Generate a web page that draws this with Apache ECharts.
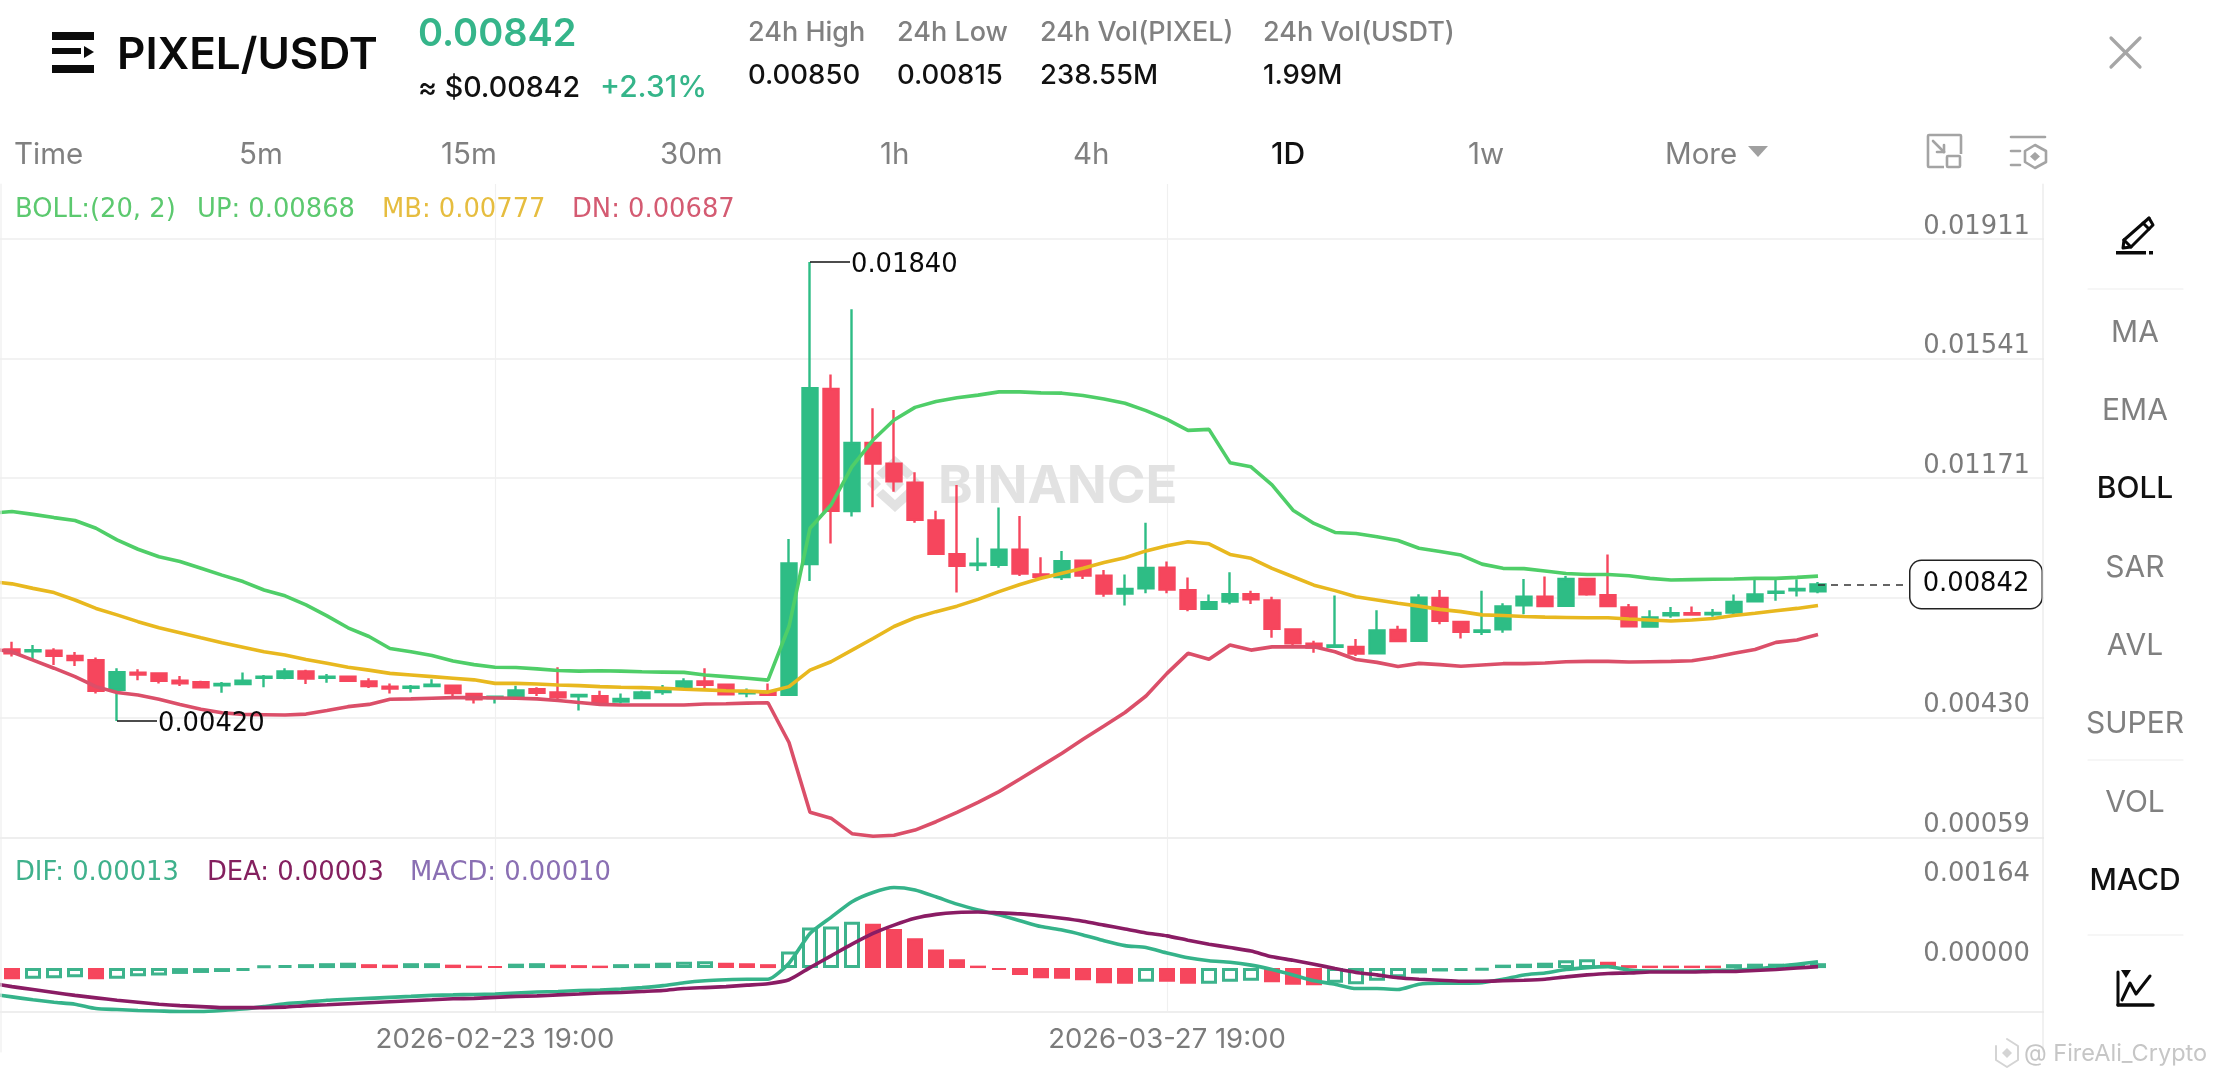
<!DOCTYPE html>
<html>
<head>
<meta charset="utf-8">
<style>html,body{margin:0;padding:0;background:#fff}#c{width:2220px;height:1080px}</style>
<script src="https://cdn.jsdelivr.net/npm/echarts@6/dist/echarts.min.js"></script>
</head>
<body>
<div id="c"></div>
<script>
// ---- categories (first one lies just off the left edge, the last ten are the empty right margin)
const categories = ["2026-01-30 19:00","2026-01-31 19:00","2026-02-01 19:00","2026-02-02 19:00","2026-02-03 19:00","2026-02-04 19:00","2026-02-05 19:00","2026-02-06 19:00","2026-02-07 19:00","2026-02-08 19:00","2026-02-09 19:00","2026-02-10 19:00","2026-02-11 19:00","2026-02-12 19:00","2026-02-13 19:00","2026-02-14 19:00","2026-02-15 19:00","2026-02-16 19:00","2026-02-17 19:00","2026-02-18 19:00","2026-02-19 19:00","2026-02-20 19:00","2026-02-21 19:00","2026-02-22 19:00","2026-02-23 19:00","2026-02-24 19:00","2026-02-25 19:00","2026-02-26 19:00","2026-02-27 19:00","2026-02-28 19:00","2026-03-01 19:00","2026-03-02 19:00","2026-03-03 19:00","2026-03-04 19:00","2026-03-05 19:00","2026-03-06 19:00","2026-03-07 19:00","2026-03-08 19:00","2026-03-09 19:00","2026-03-10 19:00","2026-03-11 19:00","2026-03-12 19:00","2026-03-13 19:00","2026-03-14 19:00","2026-03-15 19:00","2026-03-16 19:00","2026-03-17 19:00","2026-03-18 19:00","2026-03-19 19:00","2026-03-20 19:00","2026-03-21 19:00","2026-03-22 19:00","2026-03-23 19:00","2026-03-24 19:00","2026-03-25 19:00","2026-03-26 19:00","2026-03-27 19:00","2026-03-28 19:00","2026-03-29 19:00","2026-03-30 19:00","2026-03-31 19:00","2026-04-01 19:00","2026-04-02 19:00","2026-04-03 19:00","2026-04-04 19:00","2026-04-05 19:00","2026-04-06 19:00","2026-04-07 19:00","2026-04-08 19:00","2026-04-09 19:00","2026-04-10 19:00","2026-04-11 19:00","2026-04-12 19:00","2026-04-13 19:00","2026-04-14 19:00","2026-04-15 19:00","2026-04-16 19:00","2026-04-17 19:00","2026-04-18 19:00","2026-04-19 19:00","2026-04-20 19:00","2026-04-21 19:00","2026-04-22 19:00","2026-04-23 19:00","2026-04-24 19:00","2026-04-25 19:00","2026-04-26 19:00","2026-04-27 19:00","2026-04-28 19:00","2026-04-29 19:00","2026-04-30 19:00","2026-05-01 19:00","2026-05-02 19:00","2026-05-03 19:00","2026-05-04 19:00","2026-05-05 19:00","2026-05-06 19:00","2026-05-07 19:00","2026-05-08 19:00"];
const xTickLabels = ["2026-02-23 19:00","2026-03-27 19:00"];
const priceTicks = [0.00059,0.00430,0.00801,0.01171,0.01541,0.01911];
const priceTickLabels = [0.00059,0.00430,0.01171,0.01541,0.01911];
const macdTicks = [0,0.00164];

// ---- candles, from the second category on
const opens = [0.00641,0.00635,0.00637,0.00621,0.00608,0.00516,0.00569,0.00567,0.00544,0.00540,0.00530,0.00534,0.00553,0.00553,0.00573,0.00553,0.00557,0.00542,0.00526,0.00522,0.00528,0.00529,0.00503,0.00491,0.00494,0.00518,0.00508,0.00496,0.00496,0.00480,0.00491,0.00509,0.00524,0.00542,0.00532,0.00505,0.00510,0.00501,0.00905,0.01447,0.01069,0.01280,0.01216,0.01157,0.01040,0.00936,0.00902,0.00903,0.00950,0.00873,0.00865,0.00916,0.00869,0.00814,0.00830,0.00894,0.00824,0.00767,0.00789,0.00812,0.00793,0.00703,0.00659,0.00649,0.00649,0.00629,0.00701,0.00668,0.00800,0.00726,0.00696,0.00703,0.00778,0.00804,0.00776,0.00859,0.00809,0.00771,0.00712,0.00747,0.00753,0.00750,0.00755,0.00790,0.00816,0.00824,0.00821];
const closes = [0.00629,0.00639,0.00621,0.00608,0.00513,0.00571,0.00563,0.00544,0.00536,0.00524,0.00534,0.00544,0.00557,0.00573,0.00551,0.00557,0.00544,0.00528,0.00520,0.00526,0.00532,0.00506,0.00487,0.00495,0.00514,0.00507,0.00493,0.00500,0.00476,0.00488,0.00508,0.00514,0.00542,0.00532,0.00502,0.00510,0.00501,0.00907,0.01449,0.01070,0.01280,0.01216,0.01161,0.01042,0.00937,0.00900,0.00906,0.00950,0.00876,0.00866,0.00914,0.00870,0.00814,0.00828,0.00893,0.00826,0.00767,0.00787,0.00812,0.00796,0.00705,0.00660,0.00647,0.00653,0.00628,0.00700,0.00667,0.00801,0.00730,0.00696,0.00700,0.00774,0.00804,0.00775,0.00859,0.00812,0.00775,0.00713,0.00740,0.00753,0.00749,0.00754,0.00788,0.00811,0.00820,0.00828,0.00842];
const lows = [0.00619,0.00608,0.00593,0.00590,0.00505,0.00420,0.00546,0.00536,0.00528,0.00520,0.00507,0.00531,0.00524,0.00549,0.00534,0.00538,0.00540,0.00522,0.00505,0.00508,0.00526,0.00493,0.00474,0.00474,0.00493,0.00497,0.00487,0.00452,0.00472,0.00474,0.00487,0.00501,0.00522,0.00522,0.00499,0.00493,0.00500,0.00499,0.00853,0.00969,0.01052,0.01081,0.01129,0.01033,0.00935,0.00817,0.00884,0.00894,0.00868,0.00864,0.00856,0.00859,0.00804,0.00777,0.00815,0.00815,0.00759,0.00763,0.00781,0.00782,0.00677,0.00652,0.00631,0.00646,0.00621,0.00628,0.00666,0.00666,0.00719,0.00675,0.00686,0.00693,0.00750,0.00773,0.00775,0.00807,0.00774,0.00710,0.00709,0.00739,0.00747,0.00742,0.00750,0.00787,0.00792,0.00805,0.00815];
const highs = [0.00665,0.00655,0.00645,0.00633,0.00616,0.00583,0.00580,0.00570,0.00559,0.00544,0.00540,0.00570,0.00562,0.00583,0.00578,0.00565,0.00559,0.00552,0.00536,0.00531,0.00549,0.00531,0.00505,0.00497,0.00529,0.00524,0.00586,0.00502,0.00513,0.00505,0.00513,0.00531,0.00552,0.00583,0.00534,0.00520,0.00536,0.00983,0.01840,0.01492,0.01694,0.01387,0.01382,0.01189,0.01070,0.01150,0.00987,0.01080,0.01054,0.00926,0.00946,0.00916,0.00887,0.00873,0.01033,0.00913,0.00864,0.00811,0.00880,0.00823,0.00804,0.00703,0.00668,0.00808,0.00673,0.00762,0.00714,0.00812,0.00825,0.00730,0.00823,0.00784,0.00859,0.00867,0.00868,0.00863,0.00935,0.00782,0.00762,0.00772,0.00774,0.00766,0.00811,0.00864,0.00864,0.00858,0.00850];

// ---- bollinger bands, from the first category on
const bollUp = [0.01062,0.01068,0.01059,0.01049,0.01040,0.01016,0.00980,0.00951,0.00928,0.00913,0.00892,0.00871,0.00851,0.00825,0.00807,0.00779,0.00745,0.00708,0.00681,0.00644,0.00634,0.00622,0.00605,0.00594,0.00586,0.00585,0.00581,0.00576,0.00574,0.00575,0.00574,0.00572,0.00571,0.00570,0.00562,0.00557,0.00552,0.00546,0.00712,0.01016,0.01088,0.01207,0.01289,0.01351,0.01390,0.01408,0.01420,0.01428,0.01438,0.01438,0.01435,0.01434,0.01427,0.01416,0.01403,0.01380,0.01353,0.01319,0.01322,0.01219,0.01206,0.01150,0.01072,0.01031,0.01003,0.01000,0.00990,0.00978,0.00954,0.00944,0.00933,0.00905,0.00892,0.00891,0.00884,0.00876,0.00873,0.00873,0.00869,0.00861,0.00856,0.00857,0.00858,0.00859,0.00861,0.00861,0.00864,0.00868];
const bollMid = [0.00851,0.00844,0.00830,0.00817,0.00794,0.00768,0.00748,0.00727,0.00708,0.00693,0.00677,0.00662,0.00648,0.00634,0.00624,0.00610,0.00598,0.00586,0.00577,0.00567,0.00562,0.00557,0.00552,0.00547,0.00536,0.00536,0.00534,0.00531,0.00529,0.00526,0.00524,0.00523,0.00521,0.00518,0.00516,0.00513,0.00512,0.00509,0.00526,0.00577,0.00603,0.00639,0.00675,0.00712,0.00739,0.00758,0.00775,0.00796,0.00820,0.00842,0.00861,0.00877,0.00892,0.00910,0.00925,0.00946,0.00962,0.00974,0.00968,0.00935,0.00923,0.00892,0.00866,0.00840,0.00823,0.00804,0.00794,0.00784,0.00775,0.00765,0.00758,0.00748,0.00746,0.00743,0.00741,0.00740,0.00739,0.00739,0.00735,0.00732,0.00729,0.00732,0.00737,0.00746,0.00753,0.00761,0.00768,0.00777];
const bollDn = [0.00644,0.00633,0.00608,0.00583,0.00557,0.00526,0.00508,0.00500,0.00487,0.00471,0.00456,0.00445,0.00440,0.00439,0.00438,0.00441,0.00452,0.00464,0.00471,0.00487,0.00488,0.00490,0.00492,0.00492,0.00491,0.00490,0.00488,0.00483,0.00477,0.00471,0.00469,0.00469,0.00469,0.00469,0.00472,0.00473,0.00475,0.00476,0.00353,0.00137,0.00119,0.00071,0.00063,0.00066,0.00082,0.00108,0.00137,0.00168,0.00201,0.00240,0.00280,0.00320,0.00363,0.00404,0.00446,0.00497,0.00567,0.00629,0.00611,0.00655,0.00639,0.00649,0.00649,0.00649,0.00634,0.00610,0.00601,0.00588,0.00598,0.00594,0.00589,0.00593,0.00597,0.00597,0.00599,0.00603,0.00604,0.00604,0.00602,0.00603,0.00604,0.00606,0.00616,0.00629,0.00641,0.00663,0.00670,0.00687];

// ---- MACD pane, from the first category on
const dif = [-0.00053,-0.00059,-0.00065,-0.00070,-0.00074,-0.00083,-0.00085,-0.00087,-0.00088,-0.00089,-0.00089,-0.00087,-0.00084,-0.00079,-0.00073,-0.00070,-0.00066,-0.00064,-0.00062,-0.00060,-0.00058,-0.00056,-0.00055,-0.00054,-0.00053,-0.00051,-0.00049,-0.00048,-0.00046,-0.00045,-0.00043,-0.00040,-0.00036,-0.00030,-0.00026,-0.00024,-0.00023,-0.00023,0.00010,0.00071,0.00104,0.00136,0.00155,0.00165,0.00160,0.00146,0.00131,0.00119,0.00109,0.00097,0.00085,0.00078,0.00068,0.00056,0.00046,0.00042,0.00031,0.00021,0.00015,0.00012,0.00006,-0.00003,-0.00014,-0.00026,-0.00033,-0.00042,-0.00042,-0.00044,-0.00033,-0.00031,-0.00031,-0.00030,-0.00023,-0.00014,-0.00010,-0.00003,0.00001,0.00003,-0.00004,-0.00006,-0.00006,-0.00006,-0.00005,-0.00004,-0.00002,0.00003,0.00008,0.00013];
const dea = [-0.00031,-0.00038,-0.00044,-0.00050,-0.00056,-0.00061,-0.00066,-0.00070,-0.00074,-0.00077,-0.00079,-0.00081,-0.00081,-0.00081,-0.00080,-0.00077,-0.00075,-0.00073,-0.00071,-0.00069,-0.00067,-0.00065,-0.00063,-0.00062,-0.00060,-0.00058,-0.00057,-0.00055,-0.00053,-0.00051,-0.00050,-0.00048,-0.00046,-0.00042,-0.00040,-0.00038,-0.00035,-0.00032,-0.00024,0.00001,0.00025,0.00049,0.00071,0.00088,0.00102,0.00110,0.00114,0.00115,0.00113,0.00111,0.00107,0.00102,0.00096,0.00088,0.00080,0.00072,0.00066,0.00057,0.00049,0.00042,0.00035,0.00023,0.00016,0.00008,-0.00001,-0.00009,-0.00014,-0.00020,-0.00023,-0.00025,-0.00027,-0.00027,-0.00026,-0.00025,-0.00023,-0.00018,-0.00014,-0.00011,-0.00010,-0.00008,-0.00008,-0.00008,-0.00007,-0.00007,-0.00005,-0.00003,0.00000,0.00003];
// histogram, from the second category on: rising bars are hollow, falling bars solid
const macdRise = [null,-0.00022,-0.00021,-0.00019,null,-0.00022,-0.00017,-0.00015,-0.00012,-0.00010,-0.00008,-0.00006,0.00005,0.00006,0.00008,0.00010,0.00011,null,null,0.00010,0.00010,null,null,null,0.00009,0.00010,null,null,null,0.00008,0.00009,0.00011,0.00013,0.00014,null,null,null,0.00034,0.00083,0.00085,0.00095,null,null,null,null,null,null,null,null,null,null,null,null,null,-0.00028,null,null,-0.00032,-0.00028,-0.00026,null,null,null,-0.00030,-0.00033,-0.00026,-0.00019,-0.00011,-0.00007,-0.00006,-0.00005,0.00007,0.00009,0.00011,0.00016,0.00018,null,null,null,null,null,null,0.00008,0.00009,0.00009,0.00009,0.00010];
const macdFall = [-0.00023,null,null,null,-0.00023,null,null,null,null,null,null,null,null,null,null,null,null,0.00008,0.00007,null,null,0.00007,0.00005,0.00004,null,null,0.00007,0.00006,0.00005,null,null,null,null,null,0.00011,0.00010,0.00008,null,null,null,null,0.00091,0.00080,0.00061,0.00038,0.00018,0.00005,-0.00004,-0.00014,-0.00021,-0.00022,-0.00025,-0.00031,-0.00032,null,-0.00028,-0.00032,null,null,null,-0.00029,-0.00034,-0.00035,null,null,null,null,null,null,null,null,null,null,null,null,null,0.00013,0.00006,0.00005,0.00005,0.00005,0.00005,null,null,null,null,null];

const lastPrice = 0.00842;
const highMark = 0.01840, lowMark = 0.00420;

const FONT = 'Inter', NUM = '"DejaVu Sans"';
const GREEN = '#2EBD85', RED = '#F6465D';
const GREY = '#808080', AXIS = '#7b7b7b', LINE = '#eeeeee';

const candleData = [['-','-','-','-']].concat(opens.map((o,i)=>[o,closes[i],lows[i],highs[i]]));
const withLead = a => [null].concat(a);
const catAt = i => categories[i+1];   // i counts candles

// ----- chrome (text, icons) -----
const UI = 60;
const els = [];
function txt(s,x,y,size,color,weight,align,family){
  els.push({type:'text',z:UI,x:x,y:y,silent:true,style:{text:s,fontFamily:family||FONT,fontSize:size,fontWeight:weight||400,fill:color,align:align||'left',verticalAlign:'middle'}});
}
function ln(x1,y1,x2,y2,color,w,z){
  els.push({type:'line',z:z||UI,silent:true,shape:{x1,y1,x2,y2},style:{stroke:color,lineWidth:w||1.5,lineCap:'round'}});
}
function box(x,y,w,h,color,z){
  els.push({type:'rect',z:z||UI,silent:true,shape:{x,y,width:w,height:h},style:{fill:color}});
}
function poly(points,color,z){
  els.push({type:'polygon',z:z||UI,silent:true,shape:{points},style:{fill:color}});
}
function outl(points,color,w,closed){
  els.push({type:closed?'polygon':'polyline',z:UI,silent:true,shape:{points},style:{fill:closed?'#fff':null,stroke:color,lineWidth:w,lineJoin:'round',lineCap:'round'}});
}
function rectOut(x,y,w,h,color,lw){
  els.push({type:'rect',z:UI,silent:true,shape:{x,y,width:w,height:h,r:1},style:{fill:null,stroke:color,lineWidth:lw}});
}
// white side panel hides the axis overshoot
box(2044,0,176,1080,'#ffffff',50);
// frame
ln(2043,184,2043,1052,'#e8e8e8',1.2,51);
ln(1,184,1,1052,'#eeeeee',1.2,51);

// header
box(52,32,42,8,'#0b0b0b'); box(52,48,29,6,'#0b0b0b'); box(52,65,42,8,'#0b0b0b');
poly([[84,46],[94,52],[84,58]],'#0b0b0b');
txt('PIXEL/USDT',117,55.5,44,'#0a0a0a',600);
txt('0.00842',418,34.5,38,'#35B58A',600);
txt('≈ $0.00842',418,88,28.6,'#111111',500);
txt('+2.31%',600,88,30,'#35B58A',500);
[['24h High',748,'0.00850'],['24h Low',897,'0.00815'],['24h Vol(PIXEL)',1040,'238.55M'],['24h Vol(USDT)',1263,'1.99M']].forEach(r=>{
  txt(r[0],r[1],33,27,GREY,500);
  txt(r[2],r[1],75.5,27.5,'#111111',500);
});
// tabs
[['Time',14],['5m',239],['15m',441],['30m',660],['1h',880],['4h',1073],['1w',1468],['More',1665]].forEach(r=>txt(r[0],r[1],155,29.5,GREY,400));
txt('1D',1271,155,30,'#111111',500);
poly([[1748,146],[1768,146],[1758,157]],'#a0a0a0');
// icons
rectOut(1928,135,33,32,'#a4a4a4',2.6);
box(1944,154,20,16,'#ffffff'); rectOut(1947,156,13,11,'#a4a4a4',2.6);
ln(1933,141,1944,152,'#a4a4a4',2.6); ln(1944,152,1944,145,'#a4a4a4',2.6); ln(1944,152,1937,152,'#a4a4a4',2.6);
ln(2011,137,2045,137,'#a4a4a4',2.6); ln(2011,151,2020,151,'#a4a4a4',2.6); ln(2011,165,2020,165,'#a4a4a4',2.6);
outl([[2035,145],[2046,151],[2046,162],[2035,168],[2025,162],[2025,151]],'#a4a4a4',2.6,true);
poly([[2035,152],[2040,156.5],[2035,161],[2030,156.5]],'#a4a4a4');
ln(2111,38,2140,67,'#a6a6a6',3.2); ln(2140,38,2111,67,'#a6a6a6',3.2);
// pencil
outl([[2149,218],[2153,225],[2131,247],[2123,248],[2124,240]],'#0a0a0a',3,false);
ln(2124,240,2131,247,'#0a0a0a',3); ln(2149,218,2124,240,'#0a0a0a',3); ln(2143,223,2149,229,'#0a0a0a',3);
box(2116,251,30,3.5,'#0a0a0a'); box(2149,251,4,3.5,'#0a0a0a');
ln(2088,289,2183,289,'#eeeeee',1.2);
// side menu
[['MA',333],['EMA',411],['SAR',568],['AVL',646],['SUPER',724],['VOL',803]].forEach(r=>txt(r[0],2135,r[1],30,GREY,400,'center'));
txt('BOLL',2135,489,30,'#111111',500,'center');
txt('MACD',2135,881,30,'#111111',500,'center');
ln(2088,760,2183,760,'#eeeeee',1.2); ln(2088,935,2183,935,'#eeeeee',1.2);
// bottom chart icon
ln(2118,972,2118,1005,'#0a0a0a',3); ln(2118,1005,2153,1005,'#0a0a0a',3.4);
poly([[2121,970],[2131,970],[2126,978]],'#0a0a0a');
outl([[2122,1000],[2130,983],[2136,994],[2150,976]],'#0a0a0a',3,false);
// legends
[['BOLL:(20, 2)',15,'#5CC96F'],['UP: 0.00868',197,'#5CC96F'],['MB: 0.00777',382,'#E6BD3F'],['DN: 0.00687',572,'#D45B72']].forEach(r=>txt(r[0],r[1],210,25.8,r[2],400,'left',NUM));
[['DIF: 0.00013',15,'#3FB18C'],['DEA: 0.00003',207,'#84205F'],['MACD: 0.00010',410,'#8A6FB3']].forEach(r=>txt(r[0],r[1],873,25.8,r[2],400,'left',NUM));
// BINANCE watermark (under the marks)
const WM='#e2e2e2';
const dm=(cx,cy,r)=>[[cx,cy-r],[cx+r,cy],[cx,cy+r],[cx-r,cy]];
poly(dm(895,484,9),WM,1); poly(dm(874,484,7),WM,1); poly(dm(916,484,7),WM,1);
poly([[895,456],[914,473],[907,479],[895,468],[883,479],[876,473]],WM,1);
poly([[895,512],[914,495],[907,489],[895,500],[883,489],[876,495]],WM,1);
els.push({type:'text',z:1,x:938,y:487,silent:true,style:{text:'BINANCE',fontFamily:FONT,fontSize:52.5,fontWeight:700,fill:WM,align:'left',verticalAlign:'middle'}});
// credit watermark
txt('@ FireAli_Crypto',2024,1054,23.5,'#c6c6c6',400);
outl([[2007,1039],[2018,1046],[2018,1060],[2007,1067],[1996,1060],[1996,1046]],'#d4d4d4',2,false);
poly(dm(2007,1053,5),'#d4d4d4');

const labelBase = {fontFamily:NUM,fontSize:25.8,color:AXIS};
const common = {type:'line',showSymbol:false,symbol:'none',silent:true,clip:false,animation:false};

const option = {
  animation:false,
  backgroundColor:'#ffffff',
  textStyle:{fontFamily:FONT},
  graphic:{elements:els},
  grid:[
    {left:-9,width:2058,top:184,height:654,containLabel:false,outerBoundsMode:'none'},
    {left:-9,width:2058,top:838,height:174,containLabel:false,outerBoundsMode:'none'}
  ],
  xAxis:[
    {type:'category',gridIndex:0,data:categories,boundaryGap:false,
      axisLine:{show:true,onZero:false,lineStyle:{color:LINE,width:2}},axisTick:{show:false},axisLabel:{show:false},
      splitLine:{show:true,interval:(i,v)=>xTickLabels.includes(v),lineStyle:{color:'#f0f0f0',width:1.2}}},
    {type:'category',gridIndex:1,data:categories,boundaryGap:false,
      axisLine:{show:true,onZero:false,lineStyle:{color:LINE,width:2}},axisTick:{show:false},
      axisLabel:{show:true,interval:(i,v)=>xTickLabels.includes(v),color:AXIS,fontFamily:FONT,fontSize:27.5,margin:14},
      splitLine:{show:true,interval:(i,v)=>xTickLabels.includes(v),lineStyle:{color:'#f0f0f0',width:1.2}}}
  ],
  yAxis:[
    {type:'value',gridIndex:0,position:'right',min:0.000576,max:0.020812,
      axisLine:{show:false},
      axisTick:{show:false,customValues:priceTicks},
      splitLine:{show:true,lineStyle:{color:LINE,width:1.5}},
      axisLabel:Object.assign({},labelBase,{inside:true,margin:19,verticalAlign:'bottom',lineHeight:24,customValues:priceTickLabels,formatter:v=>v.toFixed(5)})},
    {type:'value',gridIndex:1,position:'right',min:-0.0009,max:0.002665,
      axisLine:{show:false},
      axisTick:{show:false,customValues:macdTicks},
      splitLine:{show:false},
      axisLabel:Object.assign({},labelBase,{inside:true,margin:19,verticalAlign:'bottom',padding:[0,0,1,0],customValues:macdTicks,formatter:v=>v.toFixed(5)})}
  ],
  series:[
    {type:'candlestick',name:'PIXEL/USDT',xAxisIndex:0,yAxisIndex:0,data:candleData,barWidth:15.6,z:3,silent:true,clip:false,
      itemStyle:{color:GREEN,color0:RED,borderColor:GREEN,borderColor0:RED,borderWidth:2.4},
      markPoint:{silent:true,animation:false,z:6,data:[
        {coord:[catAt(38),highMark],symbol:'rect',symbolSize:[40,1.5],symbolOffset:[20,0],itemStyle:{color:'#111'},
          label:{show:true,position:'right',distance:1,offset:[0,3],formatter:highMark.toFixed(5),color:'#0a0a0a',fontFamily:NUM,fontSize:25.8}},
        {coord:[catAt(5),lowMark],symbol:'rect',symbolSize:[40,1.5],symbolOffset:[20,0],itemStyle:{color:'#111'},
          label:{show:true,position:'right',distance:1,offset:[0,3],formatter:lowMark.toFixed(5),color:'#0a0a0a',fontFamily:NUM,fontSize:25.8}},
        {coord:[catAt(93),lastPrice],symbol:'rect',symbolSize:[2,2],symbolOffset:[11,0],itemStyle:{color:'#fff'},
          label:{show:true,position:'inside',formatter:lastPrice.toFixed(5),color:'#0a0a0a',fontFamily:NUM,fontSize:25.8,
            width:131,height:47,lineHeight:47,align:'center',verticalAlign:'middle',backgroundColor:'#fff',borderColor:'#222',borderWidth:1.5,borderRadius:11}}
      ]},
      markLine:{silent:true,animation:false,symbol:'none',label:{show:false},lineStyle:{color:'#333',type:[7,6],width:1.5},z:5,
        data:[[{coord:[catAt(86),lastPrice]},{coord:[catAt(93),lastPrice]}]]}
    },
    Object.assign({},common,{name:'UP',xAxisIndex:0,yAxisIndex:0,data:bollUp,z:4,lineStyle:{color:'#4FCE68',width:3.6}}),
    Object.assign({},common,{name:'MB',xAxisIndex:0,yAxisIndex:0,data:bollMid,z:4,lineStyle:{color:'#E8B81F',width:3.6}}),
    Object.assign({},common,{name:'DN',xAxisIndex:0,yAxisIndex:0,data:bollDn,z:4,lineStyle:{color:'#DB4F69',width:3.6}}),
    {type:'bar',name:'MACD rising',xAxisIndex:1,yAxisIndex:1,stack:'macd',barWidth:16,data:withLead(macdRise),silent:true,z:2,
      itemStyle:{color:'#ffffff',borderColor:'#3DB38C',borderWidth:3}},
    {type:'bar',name:'MACD falling',xAxisIndex:1,yAxisIndex:1,stack:'macd',barWidth:16,data:withLead(macdFall),silent:true,z:2,
      itemStyle:{color:RED,borderColor:RED,borderWidth:2}},
    Object.assign({},common,{name:'DIF',xAxisIndex:1,yAxisIndex:1,data:dif,z:4,smooth:0.2,lineStyle:{color:'#35B38A',width:3.6}}),
    Object.assign({},common,{name:'DEA',xAxisIndex:1,yAxisIndex:1,data:dea,z:4,smooth:0.2,lineStyle:{color:'#8A1C64',width:3.6}})
  ]
};
echarts.init(document.getElementById('c')).setOption(option);
</script>
</body>
</html>
